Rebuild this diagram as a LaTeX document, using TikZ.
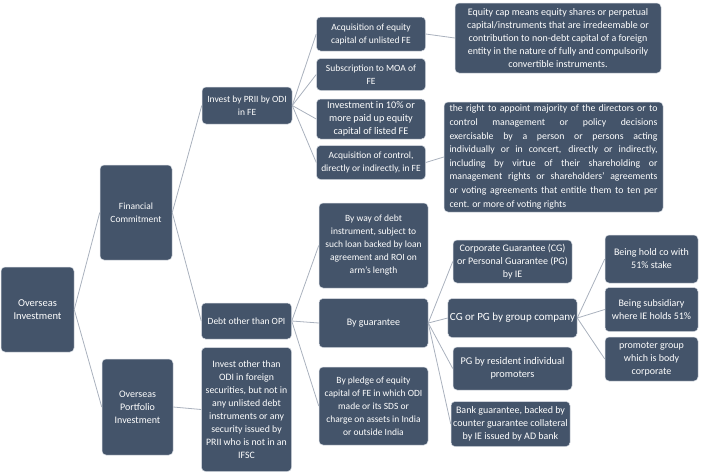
\documentclass[tikz,border=0pt]{standalone}
\usepackage{fontspec}
\setmainfont{Carlito}
\usepackage{xcolor}
\definecolor{boxSlate}{HTML}{44546A}
\definecolor{boxEdge}{HTML}{D5DAE1}
\definecolor{linkGray}{HTML}{A9B1BD}
\usepackage{tikz}
\usetikzlibrary{
    positioning
}
\tikzset{
    % Base style for all boxes
    tree box/.style={
        rectangle,
        rounded corners=4pt,
        fill=boxSlate,
        draw=boxEdge,
        line width=0.5pt,
        text=white,
        font=\fontsize{9.5}{13}\selectfont,
        align=center,
        inner sep=2pt,
    },
    % Larger text in some boxes
    big text/.style={font=\fontsize{#1}{13}\selectfont},
    % Column styles
    col two/.style={tree box, minimum width=90pt},
    col three/.style={tree box, minimum width=109pt},
    col four/.style={tree box, minimum width=119pt},
    col five/.style={tree box, minimum width=93pt},
    % Connector - thin gray line
    link/.style={
        draw=linkGray,
        line width=0.8pt,
    },
}

\begin{document}
\begin{tikzpicture}[x=1pt, y=-1pt, node distance=7pt]
    \useasboundingbox (0,0) rectangle (705,472);
    % first levels
    \node (oi) [tree box, big text=10.5, minimum width=73pt, minimum height=85pt] at (37.5,309.5) {Overseas\\Investment};
    \node (fc) [tree box, minimum width=72pt, minimum height=95pt] at (136,212.5) {Financial\\Commitment};
    \node (opi) [tree box, big text=10, minimum width=71pt, minimum height=96pt] at (137.5,407) {Overseas\\Portfolio\\Investment};

    \node (odi) [col two, minimum height=37pt] at (247,105.5) {Invest by PRII by ODI\\in FE};
    \node (debt) [col two, minimum height=36pt] at (246.5,321) {Debt other than OPI};
    \node (other) [col two, big text=9.8, minimum height=124pt, below=8pt of debt] {Invest other than\\ODI in foreign\\securities, but not in\\any unlisted debt\\instruments or any\\security issued by\\PRII who is not in an\\IFSC};

    % ODI branch
    \node (acqeq) [col three, minimum height=34pt] at (371,34) {Acquisition of equity\\capital of unlisted FE};
    \node (moa) [col three, minimum height=32pt, below=7pt of acqeq] {Subscription to MOA of\\FE};
    \node (tenpc) [col three, big text=10.2, minimum height=40pt, below=8pt of moa] {Investment in 10\%  or\\more paid up equity\\capital of listed FE};
    \node (acqctrl) [col three, minimum height=34pt, below=6pt of tenpc] {Acquisition of control,\\directly or indirectly, in FE};

    \node (eqdef) [tree box, big text=10, minimum width=206pt, minimum height=70pt] at (558,38) {Equity cap means equity shares or perpetual\\capital/instruments that are irredeemable or\\contribution to non-debt capital of a foreign\\entity in the  nature of  fully and compulsorily\\convertible instruments.};
    \node (ctrldef) [tree box, font=\fontsize{9.8}{13.6}\selectfont, text width=208pt, align=justify, inner xsep=5.5pt, minimum height=110pt] at (553.5,157) {the right to appoint majority of the directors or to\linebreak control management or policy decisions\linebreak exercisable by a person or persons acting\linebreak individually or in concert, directly or indirectly,\linebreak including by virtue of their shareholding or\linebreak management rights or shareholders’ agreements\linebreak or voting agreements that entitle them to ten per\linebreak cent. or more of voting rights};

    % debt branch
    \node (dinst) [col three, minimum height=85pt] at (373.5,245.5) {By way of debt\\instrument, subject to\\such loan backed by loan\\agreement and ROI on\\arm’s length};
    \node (guar) [col three, big text=10, minimum height=49pt, below=10pt of dinst] {By guarantee};
    \node (pledge) [col three, minimum height=78pt, below=19pt of guar] {By pledge of equity\\capital of FE in which ODI\\made or its SDS or\\charge on assets in India\\or outside India};

    % guarantee branch
    \node (cgpg) [col four, big text=10, minimum height=43pt] at (512.5,261.5) {Corporate Guarantee (CG)\\or Personal Guarantee  (PG)\\by IE};
    \node (group) [col four, big text=11, minimum height=39pt, below=15pt of cgpg] {CG or PG by group company};
    \node (resid) [col four, big text=10.3, minimum height=43pt, below=9pt of group] {PG by resident individual\\promoters};
    \node (bank) [col four, big text=10, minimum height=45pt, below=11pt of resid, xshift=-2pt] {Bank guarantee, backed by\\counter guarantee collateral\\by IE issued by AD bank};

    % group company branch
    \node (holdco) [col five, big text=10, minimum height=48pt] at (651.5,259) {Being hold co with\\51\%  stake};
    \node (subs) [col five, big text=10, minimum height=44pt, below=4pt of holdco] {Being subsidiary\\where IE holds 51\%};
    \node (prom) [col five, big text=10, minimum height=44pt, below=5pt of subs] {promoter group\\which is body\\corporate};

    % connectors
    \draw [link] (oi.east) -- (fc.west);
    \draw [link] (oi.east) -- (opi.west);
    \draw [link] (fc.east) -- (odi.west);
    \draw [link] (fc.east) -- (debt.west);
    \draw [link] (opi.east) -- (other.west);
    \draw [link] (odi.east) -- (acqeq.west);
    \draw [link] (odi.east) -- (moa.west);
    \draw [link] (odi.east) -- (tenpc.west);
    \draw [link] (odi.east) -- (acqctrl.west);
    \draw [link] (acqeq.east) -- (eqdef.west);
    \draw [link] (acqctrl.east) -- (ctrldef.west);
    \draw [link] (debt.east) -- (dinst.west);
    \draw [link] (debt.east) -- (guar.west);
    \draw [link] (debt.east) -- (pledge.west);
    \draw [link] (guar.east) -- (cgpg.west);
    \draw [link] (guar.east) -- (group.west);
    \draw [link] (guar.east) -- (resid.west);
    \draw [link] (guar.east) -- (bank.west);
    \draw [link] (group.east) -- (holdco.west);
    \draw [link] (group.east) -- (subs.west);
    \draw [link] (group.east) -- (prom.west);
\end{tikzpicture}
\end{document}
